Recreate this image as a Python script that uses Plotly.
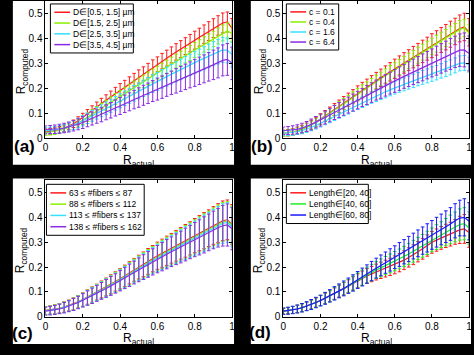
import plotly.graph_objects as go

# ---------------- data ----------------
x_vals = [0, 0.025, 0.05, 0.075, 0.1, 0.125, 0.15, 0.175, 0.2, 0.225, 0.25, 0.275, 0.3, 0.325,
          0.35, 0.375, 0.4, 0.425, 0.45, 0.475, 0.5, 0.525, 0.55, 0.575, 0.6, 0.625, 0.65, 0.675,
          0.7, 0.725, 0.75, 0.775, 0.8, 0.825, 0.85, 0.875, 0.9, 0.925, 0.95, 0.975, 1.0]

x_ticks = [0, 0.2, 0.4, 0.6, 0.8, 1]
x_ticklabels = ["0", "0.2", "0.4", "0.6", "0.8", "1"]
y_ticks = [0, 0.1, 0.2, 0.3, 0.4, 0.5]
y_ticklabels = ["0", "0.1", "0.2", "0.3", "0.4", "0.5"]

# panel (a)
a_labels = ["D\u2208[0.5, 1.5] \u00b5m", "D\u2208[1.5, 2.5] \u00b5m", "D\u2208[2.5, 3.5] \u00b5m", "D\u2208[3.5, 4.5] \u00b5m"]
a_red = [0.025, 0.027, 0.030, 0.034, 0.040, 0.048, 0.058, 0.070, 0.083, 0.097, 0.111, 0.125, 0.139, 0.152,
         0.166, 0.180, 0.194, 0.207, 0.220, 0.233, 0.246, 0.258, 0.271, 0.284, 0.296, 0.309, 0.321, 0.334,
         0.346, 0.357, 0.369, 0.381, 0.393, 0.405, 0.417, 0.429, 0.441, 0.452, 0.462, 0.466, 0.440]
a_red_err = [0.012, 0.012, 0.012, 0.013, 0.013, 0.014, 0.015, 0.016, 0.017, 0.018, 0.019, 0.020, 0.021, 0.022,
             0.023, 0.024, 0.025, 0.025, 0.026, 0.027, 0.028, 0.028, 0.029, 0.030, 0.030, 0.031, 0.032, 0.032,
             0.033, 0.034, 0.034, 0.035, 0.036, 0.036, 0.037, 0.038, 0.038, 0.039, 0.040, 0.040, 0.040]
a_green = [0.022, 0.024, 0.027, 0.031, 0.036, 0.043, 0.051, 0.061, 0.072, 0.084, 0.096, 0.108, 0.120, 0.132,
           0.145, 0.157, 0.169, 0.181, 0.193, 0.205, 0.217, 0.228, 0.240, 0.251, 0.263, 0.274, 0.286, 0.297,
           0.309, 0.320, 0.331, 0.342, 0.354, 0.365, 0.376, 0.387, 0.398, 0.410, 0.422, 0.430, 0.420]
a_green_err = [0.011, 0.011, 0.012, 0.012, 0.013, 0.014, 0.015, 0.016, 0.017, 0.017, 0.018, 0.019, 0.020, 0.020,
               0.021, 0.022, 0.022, 0.023, 0.023, 0.024, 0.024, 0.025, 0.025, 0.026, 0.026, 0.027, 0.027, 0.028,
               0.028, 0.029, 0.029, 0.030, 0.030, 0.030, 0.031, 0.031, 0.031, 0.032, 0.032, 0.032, 0.032]
a_cyan = [0.030, 0.031, 0.033, 0.036, 0.040, 0.046, 0.053, 0.061, 0.070, 0.080, 0.090, 0.100, 0.110, 0.120,
          0.130, 0.140, 0.150, 0.160, 0.170, 0.180, 0.190, 0.200, 0.209, 0.219, 0.228, 0.238, 0.247, 0.257,
          0.266, 0.276, 0.285, 0.294, 0.303, 0.312, 0.321, 0.330, 0.339, 0.347, 0.354, 0.352, 0.335]
a_cyan_err = [0.013, 0.013, 0.014, 0.015, 0.016, 0.017, 0.018, 0.019, 0.020, 0.021, 0.022, 0.023, 0.024, 0.025,
              0.026, 0.027, 0.028, 0.029, 0.030, 0.031, 0.032, 0.033, 0.034, 0.035, 0.036, 0.037, 0.038, 0.039,
              0.040, 0.041, 0.042, 0.043, 0.044, 0.045, 0.046, 0.047, 0.048, 0.049, 0.050, 0.050, 0.050]
a_purple = [0.035, 0.035, 0.036, 0.038, 0.041, 0.045, 0.050, 0.056, 0.063, 0.071, 0.079, 0.087, 0.095, 0.104,
            0.112, 0.121, 0.129, 0.138, 0.146, 0.155, 0.163, 0.172, 0.180, 0.189, 0.197, 0.205, 0.214, 0.222,
            0.230, 0.238, 0.246, 0.254, 0.262, 0.270, 0.278, 0.286, 0.294, 0.302, 0.312, 0.316, 0.300]
a_purple_err = [0.015, 0.016, 0.017, 0.018, 0.019, 0.020, 0.021, 0.022, 0.024, 0.025, 0.026, 0.027, 0.029, 0.030,
                0.031, 0.032, 0.034, 0.035, 0.036, 0.037, 0.039, 0.040, 0.041, 0.042, 0.044, 0.045, 0.046, 0.047,
                0.049, 0.050, 0.051, 0.052, 0.054, 0.055, 0.056, 0.057, 0.059, 0.060, 0.062, 0.064, 0.065]

# panel (b)
b_labels = ["c = 0.1", "c = 0.4", "c = 1.6", "c = 6.4"]
b_red = [0.020, 0.022, 0.025, 0.030, 0.036, 0.044, 0.054, 0.065, 0.077, 0.089, 0.102, 0.115, 0.128, 0.141,
         0.154, 0.167, 0.180, 0.193, 0.205, 0.218, 0.230, 0.242, 0.254, 0.266, 0.278, 0.290, 0.302, 0.313,
         0.325, 0.336, 0.348, 0.359, 0.371, 0.382, 0.394, 0.405, 0.417, 0.428, 0.440, 0.446, 0.425]
b_red_err = [0.012, 0.013, 0.014, 0.015, 0.016, 0.017, 0.018, 0.019, 0.021, 0.022, 0.023, 0.024, 0.025, 0.026,
             0.027, 0.028, 0.030, 0.031, 0.032, 0.033, 0.034, 0.035, 0.036, 0.037, 0.039, 0.040, 0.041, 0.042,
             0.043, 0.044, 0.045, 0.046, 0.048, 0.049, 0.050, 0.051, 0.052, 0.053, 0.054, 0.055, 0.055]
b_green = [0.020, 0.022, 0.025, 0.029, 0.035, 0.043, 0.052, 0.063, 0.075, 0.087, 0.099, 0.112, 0.125, 0.137,
           0.150, 0.163, 0.176, 0.189, 0.201, 0.214, 0.226, 0.238, 0.250, 0.262, 0.274, 0.286, 0.298, 0.310,
           0.321, 0.333, 0.345, 0.356, 0.368, 0.379, 0.391, 0.402, 0.414, 0.425, 0.436, 0.442, 0.420]
b_green_err = [0.012, 0.012, 0.013, 0.013, 0.014, 0.015, 0.016, 0.017, 0.018, 0.018, 0.019, 0.020, 0.021, 0.022,
               0.022, 0.023, 0.024, 0.025, 0.025, 0.026, 0.027, 0.027, 0.028, 0.029, 0.029, 0.030, 0.030, 0.031,
               0.031, 0.032, 0.032, 0.033, 0.033, 0.034, 0.034, 0.034, 0.035, 0.035, 0.035, 0.035, 0.035]
b_cyan = [0.020, 0.021, 0.023, 0.026, 0.030, 0.036, 0.043, 0.051, 0.060, 0.069, 0.078, 0.088, 0.097, 0.107,
          0.116, 0.126, 0.135, 0.144, 0.153, 0.162, 0.170, 0.178, 0.186, 0.194, 0.202, 0.209, 0.216, 0.223,
          0.230, 0.237, 0.244, 0.250, 0.257, 0.263, 0.270, 0.277, 0.284, 0.292, 0.300, 0.302, 0.295]
b_cyan_err = [0.010, 0.010, 0.011, 0.011, 0.012, 0.013, 0.013, 0.014, 0.015, 0.015, 0.016, 0.017, 0.017, 0.018,
              0.019, 0.019, 0.020, 0.021, 0.021, 0.022, 0.023, 0.023, 0.024, 0.024, 0.025, 0.025, 0.026, 0.026,
              0.027, 0.027, 0.028, 0.028, 0.029, 0.029, 0.029, 0.030, 0.030, 0.030, 0.030, 0.030, 0.030]
b_purple = [0.030, 0.031, 0.033, 0.036, 0.041, 0.047, 0.055, 0.064, 0.073, 0.083, 0.093, 0.103, 0.113, 0.123,
            0.133, 0.143, 0.153, 0.163, 0.173, 0.183, 0.193, 0.202, 0.212, 0.221, 0.230, 0.239, 0.248, 0.257,
            0.266, 0.275, 0.284, 0.293, 0.302, 0.311, 0.320, 0.329, 0.338, 0.346, 0.353, 0.354, 0.340]
b_purple_err = [0.015, 0.016, 0.017, 0.018, 0.019, 0.020, 0.022, 0.023, 0.024, 0.026, 0.027, 0.028, 0.030, 0.031,
                0.032, 0.034, 0.035, 0.036, 0.038, 0.039, 0.040, 0.042, 0.043, 0.044, 0.046, 0.047, 0.048, 0.050,
                0.051, 0.052, 0.054, 0.055, 0.056, 0.058, 0.059, 0.060, 0.062, 0.063, 0.065, 0.068, 0.070]

# panel (c)
c_labels = ["63 \u2264 #fibers \u2264 87", "88 \u2264 #fibers \u2264 112", "113 \u2264 #fibers \u2264 137", "138 \u2264 #fibers \u2264 162"]
c_red = [0.025, 0.027, 0.030, 0.034, 0.039, 0.045, 0.052, 0.060, 0.069, 0.079, 0.089, 0.099, 0.110, 0.120,
         0.131, 0.142, 0.153, 0.165, 0.177, 0.189, 0.200, 0.211, 0.223, 0.234, 0.246, 0.256, 0.266, 0.276,
         0.286, 0.296, 0.306, 0.316, 0.327, 0.337, 0.347, 0.357, 0.368, 0.378, 0.387, 0.391, 0.372]
c_red_err = [0.016, 0.017, 0.018, 0.019, 0.021, 0.022, 0.024, 0.025, 0.027, 0.029, 0.031, 0.032, 0.034, 0.036,
             0.038, 0.039, 0.041, 0.043, 0.045, 0.046, 0.048, 0.050, 0.052, 0.053, 0.055, 0.057, 0.059, 0.060,
             0.062, 0.064, 0.066, 0.067, 0.069, 0.071, 0.073, 0.074, 0.076, 0.078, 0.080, 0.080, 0.080]
c_green = [0.024, 0.026, 0.029, 0.033, 0.038, 0.044, 0.051, 0.059, 0.068, 0.078, 0.088, 0.098, 0.108, 0.118,
           0.129, 0.140, 0.151, 0.162, 0.174, 0.186, 0.197, 0.208, 0.219, 0.230, 0.242, 0.252, 0.262, 0.272,
           0.282, 0.292, 0.302, 0.312, 0.322, 0.332, 0.342, 0.352, 0.363, 0.373, 0.382, 0.386, 0.368]
c_green_err = [0.016, 0.017, 0.018, 0.019, 0.021, 0.022, 0.024, 0.025, 0.027, 0.029, 0.031, 0.032, 0.034, 0.036,
               0.038, 0.039, 0.041, 0.043, 0.045, 0.046, 0.048, 0.050, 0.052, 0.053, 0.055, 0.057, 0.059, 0.060,
               0.062, 0.064, 0.066, 0.067, 0.069, 0.071, 0.073, 0.074, 0.076, 0.078, 0.078, 0.078, 0.078]
c_cyan = [0.023, 0.025, 0.028, 0.032, 0.037, 0.043, 0.050, 0.058, 0.067, 0.076, 0.086, 0.096, 0.106, 0.116,
          0.126, 0.137, 0.148, 0.159, 0.170, 0.182, 0.193, 0.204, 0.215, 0.226, 0.237, 0.247, 0.257, 0.267,
          0.277, 0.287, 0.297, 0.307, 0.317, 0.327, 0.337, 0.347, 0.357, 0.367, 0.376, 0.380, 0.362]
c_cyan_err = [0.016, 0.017, 0.018, 0.019, 0.021, 0.022, 0.024, 0.025, 0.027, 0.029, 0.031, 0.032, 0.034, 0.036,
              0.038, 0.039, 0.041, 0.043, 0.045, 0.046, 0.048, 0.050, 0.052, 0.053, 0.055, 0.057, 0.059, 0.060,
              0.062, 0.064, 0.066, 0.067, 0.069, 0.071, 0.073, 0.074, 0.076, 0.078, 0.080, 0.080, 0.080]
c_purple = [0.022, 0.024, 0.027, 0.031, 0.036, 0.042, 0.049, 0.057, 0.066, 0.075, 0.084, 0.094, 0.104, 0.114,
            0.124, 0.134, 0.145, 0.156, 0.167, 0.178, 0.189, 0.200, 0.211, 0.221, 0.232, 0.242, 0.252, 0.262,
            0.272, 0.281, 0.291, 0.301, 0.311, 0.320, 0.330, 0.340, 0.350, 0.359, 0.367, 0.370, 0.355]
c_purple_err = [0.016, 0.017, 0.018, 0.019, 0.021, 0.022, 0.024, 0.025, 0.027, 0.029, 0.031, 0.032, 0.034, 0.036,
                0.038, 0.039, 0.041, 0.043, 0.045, 0.046, 0.048, 0.050, 0.052, 0.053, 0.055, 0.057, 0.059, 0.060,
                0.062, 0.064, 0.066, 0.067, 0.069, 0.071, 0.073, 0.074, 0.076, 0.078, 0.082, 0.085, 0.085]

# panel (d)
d_labels = ["Length\u2208[20, 40]", "Length\u2208[40, 60]", "Length\u2208[60, 80]"]
d_red = [0.022, 0.024, 0.027, 0.031, 0.036, 0.042, 0.049, 0.057, 0.065, 0.074, 0.083, 0.093, 0.103, 0.113,
         0.123, 0.134, 0.145, 0.155, 0.164, 0.172, 0.180, 0.187, 0.194, 0.201, 0.209, 0.218, 0.228, 0.239,
         0.250, 0.262, 0.274, 0.287, 0.300, 0.309, 0.318, 0.326, 0.333, 0.342, 0.350, 0.354, 0.340]
d_red_err = [0.012, 0.013, 0.014, 0.015, 0.016, 0.017, 0.018, 0.019, 0.020, 0.021, 0.022, 0.023, 0.024, 0.025,
             0.026, 0.027, 0.028, 0.029, 0.030, 0.031, 0.032, 0.033, 0.034, 0.035, 0.036, 0.037, 0.038, 0.039,
             0.040, 0.041, 0.042, 0.043, 0.044, 0.045, 0.046, 0.047, 0.048, 0.050, 0.055, 0.058, 0.060]
d_green = [0.022, 0.024, 0.027, 0.031, 0.036, 0.042, 0.049, 0.057, 0.065, 0.074, 0.083, 0.093, 0.103, 0.113,
           0.124, 0.135, 0.146, 0.157, 0.168, 0.178, 0.188, 0.197, 0.206, 0.215, 0.224, 0.233, 0.243, 0.253,
           0.264, 0.275, 0.286, 0.298, 0.310, 0.321, 0.331, 0.341, 0.352, 0.362, 0.372, 0.375, 0.358]
d_green_err = [0.012, 0.013, 0.014, 0.015, 0.016, 0.017, 0.018, 0.019, 0.020, 0.022, 0.023, 0.024, 0.025, 0.026,
               0.027, 0.029, 0.030, 0.031, 0.032, 0.033, 0.034, 0.036, 0.037, 0.038, 0.039, 0.040, 0.041, 0.043,
               0.044, 0.045, 0.046, 0.047, 0.048, 0.050, 0.052, 0.055, 0.058, 0.060, 0.063, 0.065, 0.065]
d_blue = [0.022, 0.024, 0.027, 0.031, 0.036, 0.042, 0.049, 0.057, 0.065, 0.074, 0.084, 0.094, 0.104, 0.114,
          0.125, 0.136, 0.148, 0.160, 0.172, 0.184, 0.196, 0.207, 0.218, 0.229, 0.240, 0.251, 0.262, 0.273,
          0.285, 0.296, 0.307, 0.318, 0.330, 0.341, 0.352, 0.363, 0.374, 0.387, 0.398, 0.401, 0.385]
d_blue_err = [0.013, 0.014, 0.015, 0.016, 0.017, 0.018, 0.020, 0.021, 0.022, 0.024, 0.025, 0.027, 0.028, 0.030,
              0.031, 0.033, 0.034, 0.036, 0.037, 0.039, 0.040, 0.042, 0.043, 0.045, 0.046, 0.048, 0.049, 0.051,
              0.052, 0.054, 0.055, 0.057, 0.058, 0.060, 0.062, 0.064, 0.066, 0.069, 0.072, 0.075, 0.075]

col4 = ["#ff1a1a", "#88f000", "#33e0ff", "#8a2be2"]
col3 = ["#ff1a1a", "#22ee22", "#1a1aff"]

panels = [
    ("a", a_labels, [a_red, a_green, a_cyan, a_purple], [a_red_err, a_green_err, a_cyan_err, a_purple_err], col4),
    ("b", b_labels, [b_red, b_green, b_cyan, b_purple], [b_red_err, b_green_err, b_cyan_err, b_purple_err], col4),
    ("c", c_labels, [c_red, c_green, c_cyan, c_purple], [c_red_err, c_green_err, c_cyan_err, c_purple_err], col4),
    ("d", d_labels, [d_red, d_green, d_blue], [d_red_err, d_green_err, d_blue_err], col3),
]

# ---------------- layout geometry (pixels) ----------------
W, H = 474, 355


def px(xp):
    return xp / W


def py(yp):
    return 1 - yp / H


# axes boxes: (left, right, top, bottom)
axes_px = [(43, 232, 0, 140), (284, 472, 0, 140), (43, 232, 183, 322), (284, 472, 183, 322)]
panel_px = [(10, 234, 0, 167), (251, 474, 0, 167), (10, 234, 181, 350), (251, 474, 181, 350)]
legend_px = [(48, 132, 3, 53), (287, 340, 3, 50), (44, 143, 187, 239), (287, 370, 187, 227)]
label_pos = [(22, 148), (262, 148), (20, 339), (260, 338)]

FONT = "Liberation Sans, Arial, sans-serif"

fig = go.Figure()
shapes = []
annotations = []

for i, (tag, labels, series, errs, cols) in enumerate(panels):
    n = i + 1
    xa = "x" if n == 1 else f"x{n}"
    ya = "y" if n == 1 else f"y{n}"
    for k, (vals, err) in enumerate(zip(series, errs)):
        fig.add_trace(go.Scatter(
            x=x_vals, y=vals, mode="lines", name=labels[k], showlegend=False,
            line=dict(color=cols[k], width=1.2),
            error_y=dict(type="data", array=err, visible=True, color=cols[k], thickness=1, width=1.8),
            xaxis=xa, yaxis=ya,
        ))
    l, r, t, b = axes_px[i]
    axis_common = dict(showline=True, linecolor="black", linewidth=1, mirror="ticks", ticks="inside",
                       ticklen=3, tickcolor="black", showgrid=False, zeroline=False,
                       tickfont=dict(family=FONT, size=10, color="black"))
    xkey = "xaxis" if n == 1 else f"xaxis{n}"
    ykey = "yaxis" if n == 1 else f"yaxis{n}"
    fig.layout[xkey] = dict(domain=[px(l), px(r)], anchor=ya, range=[0, 1], tickvals=x_ticks,
                            ticktext=x_ticklabels, **axis_common)
    fig.layout[ykey] = dict(domain=[py(b), py(t)], anchor=xa, range=[0, 0.55], tickvals=y_ticks,
                            ticktext=y_ticklabels, **axis_common)

    # white panel background
    pl, pr, pt, pb = panel_px[i]
    shapes.append(dict(type="rect", xref="paper", yref="paper", x0=px(pl), x1=px(pr), y0=py(pb), y1=py(pt),
                       fillcolor="white", line=dict(width=0), layer="below"))

    # legend box
    ll, lr, lt, lb = legend_px[i]
    shapes.append(dict(type="rect", xref="paper", yref="paper", x0=px(ll), x1=px(lr), y0=py(lb), y1=py(lt),
                       fillcolor="white", line=dict(color="black", width=1), layer="above"))
    n_items = len(labels)
    step = (lb - lt - 6) / n_items
    for k in range(n_items):
        yc = lt + 3 + step * (k + 0.5)
        shapes.append(dict(type="line", xref="paper", yref="paper", x0=px(ll + 4), x1=px(ll + 20),
                           y0=py(yc), y1=py(yc), line=dict(color=cols[k], width=1.5), layer="above"))
        annotations.append(dict(text=labels[k], xref="paper", yref="paper", x=px(ll + 20.5), y=py(yc),
                                xanchor="left", yanchor="middle", showarrow=False,
                                font=dict(family=FONT, size=8.5, color="black")))

    # axis titles
    annotations.append(dict(text="R<sub>actual</sub>", xref="paper", yref="paper",
                            x=px((l + r) / 2), y=py(b + 13), xanchor="center", yanchor="top",
                            showarrow=False, font=dict(family=FONT, size=12, color="black")))
    annotations.append(dict(text="R<sub>computed</sub>", xref="paper", yref="paper",
                            x=px(l - 24), y=py((t + b) / 2 + 2), xanchor="center", yanchor="middle",
                            textangle=-90, showarrow=False, font=dict(family=FONT, size=12, color="black")))
    # panel label
    lx, ly = label_pos[i]
    annotations.append(dict(text=f"<b>({tag})</b>", xref="paper", yref="paper", x=px(lx), y=py(ly),
                            xanchor="center", yanchor="middle", showarrow=False,
                            font=dict(family=FONT, size=17, color="black")))

fig.update_layout(
    width=W, height=H, margin=dict(l=0, r=0, t=0, b=0),
    paper_bgcolor="black", plot_bgcolor="white",
    shapes=shapes, annotations=annotations, showlegend=False,
)

fig.write_html("out.html", config={"displayModeBar": False},
               post_script="document.body.style.margin='0px';document.body.style.background='black';")
